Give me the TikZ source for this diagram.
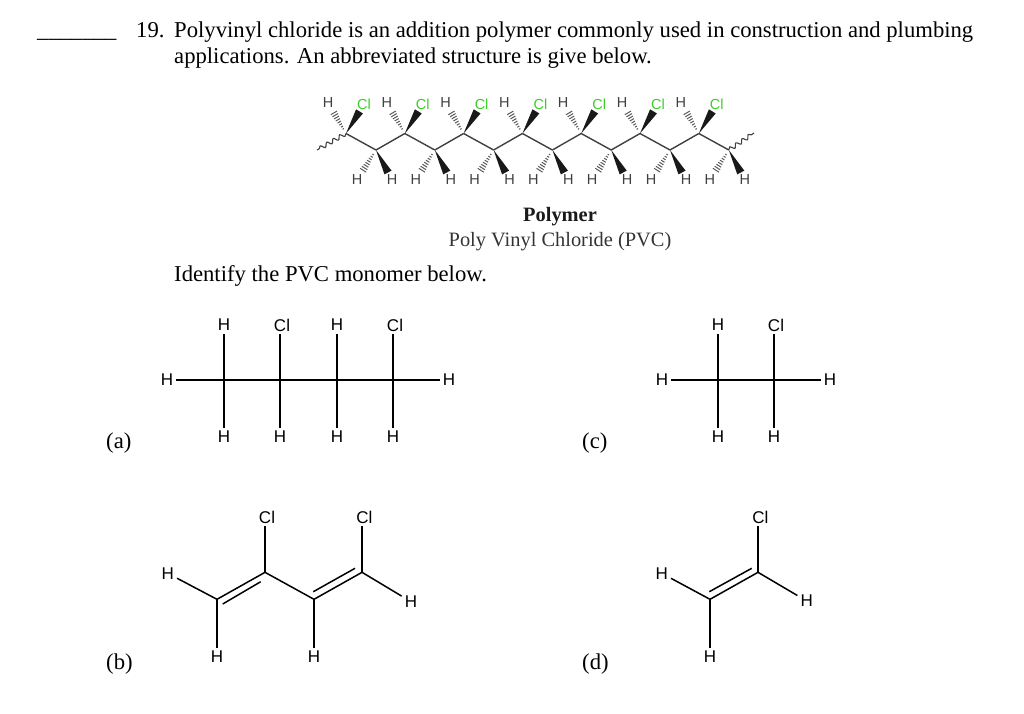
\documentclass[tikz,border=0pt]{standalone}
\usepackage{fontspec}
\setmainfont{Liberation Serif}
\newfontfamily\atomfont{Liberation Sans}
\usetikzlibrary{calc,decorations.pathmorphing}
\definecolor{clgreen}{RGB}{60,205,40}
\tikzset{
    qtext/.style={anchor=base west,inner sep=0pt,font=\fontsize{22.67}{26}\selectfont},
    caption/.style={inner sep=0pt,anchor=base,text=black!80,font=\fontsize{20.4}{24}\selectfont},
    atom/.style={inner sep=3pt,font=\atomfont\fontsize{17}{19}\selectfont},
    chainH/.style={inner sep=1pt,text=black!75,font=\atomfont\fontsize{14.5}{16}\selectfont},
    chainCl/.style={chainH,text=clgreen},
    bond/.style={line width=1.5pt},
    chainbond/.style={line width=1.4pt,black!75},
    wavy/.style={line width=1.1pt,black!75,decorate,decoration={snake,segment length=7.5pt,amplitude=2pt}}
}
% wedge and hashed bonds run most of the way from a carbon to its atom
\newcommand{\wedgebond}[2]{
    \fill[black!90] (#1) -- ($(#1)!0.75!(#2)!4pt!90:(#2)$) -- ($(#1)!0.75!(#2)!4pt!-90:(#2)$) -- cycle;
}
\newcommand{\hashbond}[2]{
    \foreach \t in {0.2,0.3,...,1.0}{
        \draw[line width=1pt,black!65] ($(#1)!0.75*\t!(#2)!4pt*\t!90:(#2)$) -- ($(#1)!0.75*\t!(#2)!4pt*\t!-90:(#2)$);
    }
}
\begin{document}
\begin{tikzpicture}[x=1pt,y=-1pt]
    \useasboundingbox (0,0) rectangle (1024,713);

    % question text
    \node[qtext] (blank) at (37,37) {\_\_\_\_\_\_\_};
    \node[qtext] (number) at (136,37) {19.};
    \node[qtext] (line1) at (174,37) {Polyvinyl chloride is an addition polymer commonly used in construction and plumbing};
    \node[qtext] (line2) at (174,63) {applications. An abbreviated structure is give below.};
    \node[qtext] (identify) at (174,281) {Identify the PVC monomer below.};
    \node[caption,text=black!90,font=\fontsize{20.4}{24}\selectfont\bfseries] (polymer) at (560,221) {Polymer};
    \node[caption] (pvc) at (560,246) {Poly Vinyl Chloride (PVC)};

    % polymer chain
    \foreach \i in {0,...,6}{
        \coordinate (top\i) at ({346+58.8*\i},133.5);
        \coordinate (bot\i) at ({376+58.8*\i},150);
        \node[chainH] (topH\i) at ({328+58.8*\i},103) {H};
        \node[chainCl] (topCl\i) at ({364+58.8*\i},104) {Cl};
        \node[chainH] (botH\i) at ({357+58.8*\i},180) {H};
        \node[chainH] (botHr\i) at ({392+58.8*\i},180) {H};
        \draw[chainbond] (top\i) -- (bot\i);
        \hashbond{top\i}{topH\i}
        \wedgebond{top\i}{topCl\i}
        \hashbond{bot\i}{botH\i}
        \wedgebond{bot\i}{botHr\i}
    }
    \foreach \i/\j in {0/1,1/2,2/3,3/4,4/5,5/6}{
        \draw[chainbond] (bot\i) -- (top\j);
    }
    \coordinate (waveL) at (317,150);
    \coordinate (waveR) at (754,133);
    \draw[wavy] (top0) -- (waveL);
    \draw[wavy] (bot6) -- (waveR);

    % option (a)
    \node[qtext] (labelA) at (106,448) {(a)};
    \node[atom] (aL) at (167,380) {H};
    \node[atom] (aR) at (449,380) {H};
    \foreach \n/\x/\t/\s in {1/224/H/0,2/280/Cl/2,3/337/H/0,4/393/Cl/2}{
        \node[atom] (aB\n) at (\x,437) {H};
        \node[atom] (aT\n) at (\x+\s,325) {\t};
        \draw[bond] (aB\n |- aT\n.south) -- (aB\n);
    }
    \draw[bond] (aL) -- (aR);

    % option (c)
    \node[qtext] (labelC) at (582,448) {(c)};
    \node[atom] (cL) at (662,380) {H};
    \node[atom] (cR) at (830,380) {H};
    \foreach \n/\x/\t/\s in {1/718/H/0,2/774/Cl/2}{
        \node[atom] (cB\n) at (\x,437) {H};
        \node[atom] (cT\n) at (\x+\s,325) {\t};
        \draw[bond] (cB\n |- cT\n.south) -- (cB\n);
    }
    \draw[bond] (cL) -- (cR);

    % option (b)
    \node[qtext] (labelB) at (106,669) {(b)};
    \coordinate (b1) at (217,599.3);
    \coordinate (b2) at (265,572.3);
    \coordinate (b3) at (314,599.3);
    \coordinate (b4) at (362,572.3);
    \coordinate (b1i) at (222.7,604);
    \coordinate (b2i) at (260.7,581.7);
    \coordinate (b3i) at (313.3,591.7);
    \coordinate (b4i) at (355,568.3);
    \node[atom] (bCl1) at (267,517) {Cl};
    \node[atom] (bCl2) at (364.3,517) {Cl};
    \node[atom] (bHl) at (167.7,573.3) {H};
    \node[atom] (bHr) at (411,601.7) {H};
    \node[atom] (bH1) at (217,657) {H};
    \node[atom] (bH2) at (314,657) {H};
    \draw[bond] (bHl) -- (b1) -- (b2) -- (b3) -- (b4) -- (bHr);
    \draw[bond] (b1i) -- (b2i);
    \draw[bond] (b3i) -- (b4i);
    \draw[bond] (b2) -- (b2 |- bCl1.south);
    \draw[bond] (b4) -- (b4 |- bCl2.south);
    \draw[bond] (b1) -- (bH1);
    \draw[bond] (b3) -- (bH2);

    % option (d)
    \node[qtext] (labelD) at (582,669) {(d)};
    \coordinate (d1) at (710,599.3);
    \coordinate (d2) at (758,572.3);
    \coordinate (d1i) at (709.3,591.7);
    \coordinate (d2i) at (751.7,568.3);
    \node[atom] (dCl) at (760.3,517) {Cl};
    \node[atom] (dHl) at (661.7,573.3) {H};
    \node[atom] (dHr) at (806.7,601) {H};
    \node[atom] (dHb) at (710,657) {H};
    \draw[bond] (dHl) -- (d1) -- (d2) -- (dHr);
    \draw[bond] (d1i) -- (d2i);
    \draw[bond] (d2) -- (d2 |- dCl.south);
    \draw[bond] (d1) -- (dHb);
\end{tikzpicture}
\end{document}
